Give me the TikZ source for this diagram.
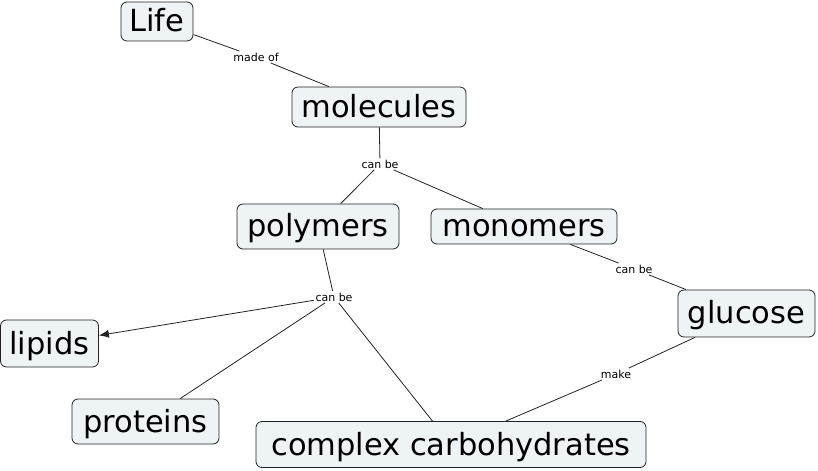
\documentclass[tikz,border=0pt]{standalone}
\usepackage{fontspec}
\setmainfont{DejaVu Sans}
\usetikzlibrary{arrows.meta}
\definecolor{cfill}{HTML}{EEF4F5}
\definecolor{cline}{HTML}{222222}
\begin{document}
\begin{tikzpicture}[x=1bp,y=-1bp,
  concept/.style={draw=cline, line width=0.8bp, fill=cfill, rounded corners=6bp,
    inner sep=0pt, text height=26bp, text depth=5bp,
    font=\fontsize{30.5bp}{36bp}\selectfont},
  lbl/.style={font=\fontsize{11bp}{13bp}\selectfont, inner sep=1.5bp, fill=white},
  link/.style={line width=0.8bp, draw=cline}]
\useasboundingbox (0,0) rectangle (818,471);
% concepts
\node[concept, minimum width=72bp, minimum height=39bp] (life) at (157,21.5) {Life};
\node[concept, minimum width=174bp, minimum height=40bp] (molecules) at (379,107) {molecules};
\node[concept, minimum width=162bp, minimum height=45bp] (polymers) at (318,226.5) {polymers};
\node[concept, minimum width=186bp, minimum height=35bp] (monomers) at (524,226.5) {monomers};
\node[concept, minimum width=137bp, minimum height=47bp] (glucose) at (746.5,313.5) {glucose};
\node[concept, minimum width=390bp, minimum height=46bp] (complex) at (451,444.5) {complex carbohydrates};
\node[concept, minimum width=98bp, minimum height=47bp] (lipids) at (49.5,343.5) {lipids};
\node[concept, minimum width=147bp, minimum height=45bp] (proteins) at (145.5,421.5) {proteins};
% linking phrases
\node[lbl] (madeof) at (256,57) {made of};
\node[lbl] (canbe1) at (380,164) {can be};
\node[lbl] (canbe2) at (334,297) {can be};
\node[lbl] (canbe3) at (634,269) {can be};
\node[lbl] (make) at (616,374) {make};
% connectors
\draw[link] (life) -- (madeof);
\draw[link] (madeof) -- (molecules);
\draw[link] (molecules) -- (canbe1);
\draw[link] (canbe1) -- (polymers);
\draw[link] (canbe1) -- (monomers);
\draw[link] (polymers) -- (canbe2);
\draw[link, -{Latex[length=10bp,width=8bp]}] (canbe2) -- (lipids);
\draw[link] (canbe2) -- (proteins);
\draw[link] (canbe2) -- (complex);
\draw[link] (monomers) -- (canbe3);
\draw[link] (canbe3) -- (glucose);
\draw[link] (glucose) -- (make);
\draw[link] (make) -- (complex);
\end{tikzpicture}
\end{document}
